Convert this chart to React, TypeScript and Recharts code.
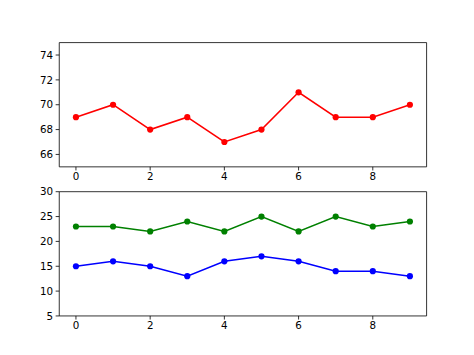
import { LineChart, Line, XAxis, YAxis } from 'recharts';

// x positions shared by all series
const xs = [0, 1, 2, 3, 4, 5, 6, 7, 8, 9];
const redValues = [69, 70, 68, 69, 67, 68, 71, 69, 69, 70];
const greenValues = [23, 23, 22, 24, 22, 25, 22, 25, 23, 24];
const blueValues = [15, 16, 15, 13, 16, 17, 16, 14, 14, 13];

const xTicks = [0, 2, 4, 6, 8];
const topYTicks = [66, 68, 70, 72, 74];
const bottomYTicks = [5, 10, 15, 20, 25, 30];

const topData = xs.map((x, i) => ({ x, red: redValues[i] }));
const bottomData = xs.map((x, i) => ({
  x,
  green: greenValues[i],
  blue: blueValues[i],
}));

const W = 474;
const H = 355;
const font = { fill: '#000', fontSize: 10.3, fontFamily: 'DejaVu Sans' };
const spine = { stroke: '#000', strokeWidth: 0.8 };
const tickLine = { stroke: '#000', strokeWidth: 0.8 };
const xDomain = [-0.45, 9.45];

// axes of size 1 (recharts skips axes of size 0); margins subtract that 1px
function axes(yDomain: number[], yTicks: number[]) {
  return [
    <XAxis
      key="xb"
      dataKey="x"
      type="number"
      domain={xDomain}
      ticks={xTicks}
      allowDataOverflow
      height={1}
      tick={font}
      tickSize={3.6}
      tickMargin={2.5}
      axisLine={spine}
      tickLine={tickLine}
    />,
    <XAxis
      key="xt"
      xAxisId="top"
      orientation="top"
      type="number"
      domain={xDomain}
      allowDataOverflow
      height={1}
      tick={false}
      tickLine={false}
      axisLine={spine}
    />,
    <YAxis
      key="yl"
      type="number"
      domain={yDomain}
      ticks={yTicks}
      allowDataOverflow
      width={1}
      tick={font}
      tickSize={3.6}
      tickMargin={2.5}
      axisLine={spine}
      tickLine={tickLine}
    />,
    <YAxis
      key="yr"
      yAxisId="right"
      orientation="right"
      type="number"
      domain={yDomain}
      allowDataOverflow
      width={1}
      tick={false}
      tickLine={false}
      axisLine={spine}
    />,
  ];
}

const dot = (color: string) => ({ r: 3.1, fill: color, stroke: color, strokeWidth: 0 });

export default function App() {
  return (
    <div style={{ position: 'absolute', left: 0, top: 0, width: W, height: H, background: '#fff' }}>
      <div style={{ position: 'absolute', left: 0, top: 0 }}>
        <LineChart
          width={W}
          height={H}
          data={topData}
          margin={{ top: 41.6, right: 46.4, bottom: 187.15, left: 58.25 }}
        >
          {axes([65, 75], topYTicks)}
          <Line
            dataKey="red"
            stroke="#ff0000"
            strokeWidth={1.55}
            dot={dot('#ff0000')}
            activeDot={false}
            isAnimationActive={false}
          />
        </LineChart>
      </div>
      <div style={{ position: 'absolute', left: 0, top: 0 }}>
        <LineChart
          width={W}
          height={H}
          data={bottomData}
          margin={{ top: 190.7, right: 46.4, bottom: 38.05, left: 58.25 }}
        >
          {axes([5, 30], bottomYTicks)}
          <Line
            dataKey="green"
            stroke="#008000"
            strokeWidth={1.55}
            dot={dot('#008000')}
            activeDot={false}
            isAnimationActive={false}
          />
          <Line
            dataKey="blue"
            stroke="#0000ff"
            strokeWidth={1.55}
            dot={dot('#0000ff')}
            activeDot={false}
            isAnimationActive={false}
          />
        </LineChart>
      </div>
    </div>
  );
}
